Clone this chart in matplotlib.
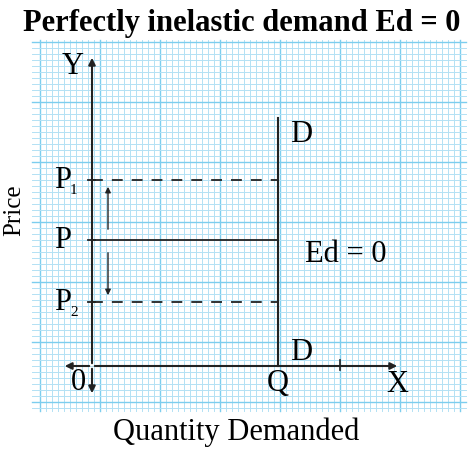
import matplotlib
matplotlib.use("Agg")
import matplotlib.pyplot as plt
import numpy as np

title = "Perfectly inelastic demand Ed = 0"
x_label = "Quantity Demanded"
y_label = "Price"
price_labels = ["P", "P", "P"]
price_subs = ["1", "", "2"]
price_y = [180, 240, 302]
demand_q = 278
origin = (92, 366)

plt.rcParams['font.family'] = ['Liberation Serif', 'DejaVu Serif']
fig = plt.figure(figsize=(4.74, 4.5), dpi=100)
ax = fig.add_axes([0, 0, 1, 1])
ax.set_xlim(0, 474); ax.set_ylim(450, 0); ax.axis('off')

# graph paper
gx0, gx1, gy0, gy1 = 32, 466, 40, 411
for x in np.arange(40, gx1, 6.0):
    major = abs((x - 40) % 60) < 1e-6
    ax.plot([x, x], [gy0, gy1], color='#7ccdee' if major else '#b3e1f4', lw=1.0 if major else 0.7, zorder=1)
for y in np.arange(42, gy1, 6.0):
    major = abs((y - 42) % 60) < 1e-6
    ax.plot([gx0, gx1], [y, y], color='#7ccdee' if major else '#b3e1f4', lw=1.0 if major else 0.7, zorder=1)

ox, oy = origin
ak = dict(arrowstyle='-|>', color='#222', lw=1.5, mutation_scale=10)
ax.annotate('', xy=(ox, 55), xytext=(ox, oy), arrowprops=ak, zorder=3)
ax.annotate('', xy=(ox, 396), xytext=(ox, oy), arrowprops=ak, zorder=3)
ax.annotate('', xy=(400, oy), xytext=(ox, oy), arrowprops=ak, zorder=3)
ax.annotate('', xy=(62, oy), xytext=(ox, oy), arrowprops=ak, zorder=3)
ax.plot([340, 340], [oy - 6, oy + 4], color='#222', lw=1.2, zorder=3)

ax.plot([demand_q, demand_q], [118, oy], color='#222', lw=1.5, zorder=3)
for lab, sub, y in zip(price_labels, price_subs, price_y):
    ls = '-' if sub == '' else (0, (6, 5))
    ax.plot([ox, demand_q], [y, y], color='#222', lw=1.3, ls=ls, zorder=3)
    ax.plot([ox - 4, ox + 3], [y, y], color='#222', lw=1.3, zorder=3)
    ax.text(54, y, lab, fontsize=22, ha='left', va='center', zorder=4)
    if sub:
        ax.text(70, y + 10, sub, fontsize=11, ha='left', va='center', zorder=4)

ak2 = dict(arrowstyle='-|>', color='#222', lw=1.0, mutation_scale=8)
ax.annotate('', xy=(108, 184), xytext=(108, 232), arrowprops=ak2, zorder=3)
ax.annotate('', xy=(108, 298), xytext=(108, 250), arrowprops=ak2, zorder=3)

fs = 22
ax.text(62, 66, 'Y', fontsize=fs, ha='left', va='center', zorder=4)
ax.text(290, 135, 'D', fontsize=fs, ha='left', va='center', zorder=4)
ax.text(290, 352, 'D', fontsize=fs, ha='left', va='center', zorder=4)
ax.text(305, 255, 'Ed = 0', fontsize=fs, ha='left', va='center', zorder=4)
ax.text(78, 382, '0', fontsize=fs, ha='center', va='center', zorder=4)
ax.text(278, 384, 'Q', fontsize=fs, ha='center', va='center', zorder=4)
ax.text(397, 384, 'X', fontsize=fs, ha='center', va='center', zorder=4)
ax.text(242, 24, title, fontsize=22, fontweight='bold', ha='center', va='center')
ax.text(236, 432, x_label, fontsize=22, ha='center', va='center')
ax.text(14, 210, y_label, fontsize=18, ha='center', va='center', rotation=90)

fig.savefig('out.png', dpi=100)
